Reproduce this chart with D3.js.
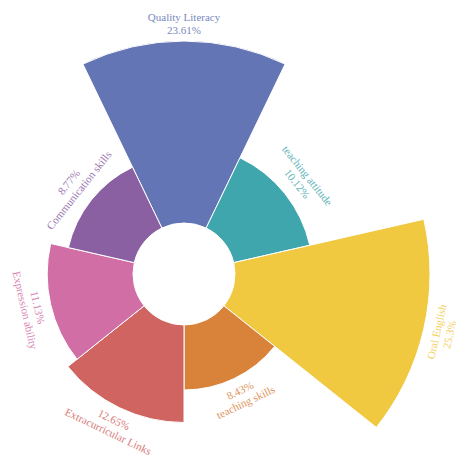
<!DOCTYPE html>
<html>
<head>
<meta charset="utf-8">
<script src="https://cdn.jsdelivr.net/npm/d3@7"></script>
<style>
  body { margin: 0; background: #fff; }
</style>
</head>
<body>
<div id="rose"></div>
<script>
var categories = ["Quality Literacy", "teaching attitude", "Oral English", "teaching skills",
                  "Extracurricular Links", "Expression ability", "Communication skills"];
var values = [23.61, 10.12, 25.3, 8.43, 12.65, 11.13, 8.77];
// which line of the label comes first (name or percentage)
var nameFirst = [true, true, true, false, false, false, false];
var colors = ["#6475b5", "#40a6ad", "#f1c940", "#d9823a", "#d06461", "#d26ea6", "#8a60a2"];

var w = 474, h = 474;
var cx = 184, cy = 274;

var svg = d3.select("#rose")
    .append("svg")
    .attr("width", w)
    .attr("height", h);

var g = svg.append("g")
    .attr("transform", "translate(" + cx + "," + cy + ")");

var r = d3.scaleLinear()
    .domain([0, d3.max(values)])
    .range([51, 246]);

var step = 2 * Math.PI / categories.length;

var data = categories.map(function(c, i) {
    return {
        name: c,
        value: values[i],
        start: -step / 2 + i * step,
        end: step / 2 + i * step,
        color: colors[i],
        nameFirst: nameFirst[i]
    };
});

var arc = d3.arc()
    .innerRadius(r(0))
    .outerRadius(function(d) { return r(d.value); })
    .startAngle(function(d) { return d.start; })
    .endAngle(function(d) { return d.end; });

g.selectAll("path")
    .data(data)
    .enter()
    .append("path")
    .attr("d", arc)
    .style("fill", function(d) { return d.color; })
    .style("stroke", "#fff")
    .style("stroke-width", 1);

var labels = g.selectAll("g.label")
    .data(data)
    .enter()
    .append("g")
    .attr("class", "label")
    .attr("transform", function(d) {
        var a = (d.start + d.end) / 2;
        var deg = a * 180 / Math.PI;
        // the top label sits a little closer to its arc
        var rc = r(d.value) + (deg == 0 ? 16 : 21);
        var rot = (deg > 90 && deg < 270) ? deg - 180 : deg;
        return "translate(" + (rc * Math.sin(a)) + "," + (-rc * Math.cos(a)) + ") rotate(" + rot + ")";
    });

labels.each(function(d) {
    var pct = d.value + "%";
    var lines = d.nameFirst ? [d.name, pct] : [pct, d.name];
    d3.select(this).selectAll("text")
        .data(lines)
        .enter()
        .append("text")
        .attr("y", function(t, i) { return i == 0 ? -6.5 : 6.5; })
        .attr("text-anchor", "middle")
        .attr("dominant-baseline", "middle")
        .style("font-family", "'Liberation Serif', 'DejaVu Serif', serif")
        .style("font-size", "11px")
        .style("fill", d.color)
        .style("opacity", 0.85)
        .text(function(t) { return t; });
});
</script>
</body>
</html>
